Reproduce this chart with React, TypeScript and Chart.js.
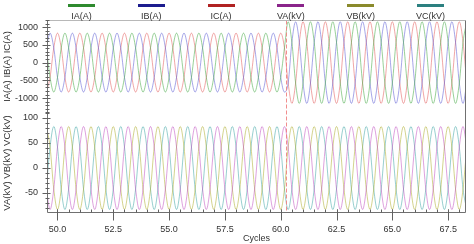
import { useEffect, useRef } from "react";
import { Chart, registerables } from "chart.js";
Chart.register(...registerables);

// Sample times (cycles), 6 samples per cycle
const TIME = [
  49.5, 49.667, 49.833, 50, 50.167, 50.333,
  50.5, 50.667, 50.833, 51, 51.167, 51.333,
  51.5, 51.667, 51.833, 52, 52.167, 52.333,
  52.5, 52.667, 52.833, 53, 53.167, 53.333,
  53.5, 53.667, 53.833, 54, 54.167, 54.333,
  54.5, 54.667, 54.833, 55, 55.167, 55.333,
  55.5, 55.667, 55.833, 56, 56.167, 56.333,
  56.5, 56.667, 56.833, 57, 57.167, 57.333,
  57.5, 57.667, 57.833, 58, 58.167, 58.333,
  58.5, 58.667, 58.833, 59, 59.167, 59.333,
  59.5, 59.667, 59.833, 60, 60.167, 60.333,
  60.5, 60.667, 60.833, 61, 61.167, 61.333,
  61.5, 61.667, 61.833, 62, 62.167, 62.333,
  62.5, 62.667, 62.833, 63, 63.167, 63.333,
  63.5, 63.667, 63.833, 64, 64.167, 64.333,
  64.5, 64.667, 64.833, 65, 65.167, 65.333,
  65.5, 65.667, 65.833, 66, 66.167, 66.333,
  66.5, 66.667, 66.833, 67, 67.167, 67.333,
  67.5, 67.667, 67.833, 68, 68.167, 68.333,
];

const IA = [
  415, -415, -830, -415, 415, 830,
  415, -415, -830, -415, 415, 830,
  415, -415, -830, -415, 415, 830,
  415, -415, -830, -415, 415, 830,
  415, -415, -830, -415, 415, 830,
  415, -415, -830, -415, 415, 830,
  415, -415, -830, -415, 415, 830,
  415, -415, -830, -415, 415, 830,
  415, -415, -830, -415, 415, 830,
  415, -415, -830, -415, 415, 830,
  415, -415, -830, -415, 415, 1150,
  575, -575, -1150, -575, 575, 1150,
  575, -575, -1150, -575, 575, 1150,
  575, -575, -1150, -575, 575, 1150,
  575, -575, -1150, -575, 575, 1150,
  575, -575, -1150, -575, 575, 1150,
  575, -575, -1150, -575, 575, 1150,
  575, -575, -1150, -575, 575, 1150,
  575, -575, -1150, -575, 575, 1150,
];

const IB = [
  415, 830, 415, -415, -830, -415,
  415, 830, 415, -415, -830, -415,
  415, 830, 415, -415, -830, -415,
  415, 830, 415, -415, -830, -415,
  415, 830, 415, -415, -830, -415,
  415, 830, 415, -415, -830, -415,
  415, 830, 415, -415, -830, -415,
  415, 830, 415, -415, -830, -415,
  415, 830, 415, -415, -830, -415,
  415, 830, 415, -415, -830, -415,
  415, 830, 415, -415, -830, -575,
  575, 1150, 575, -575, -1150, -575,
  575, 1150, 575, -575, -1150, -575,
  575, 1150, 575, -575, -1150, -575,
  575, 1150, 575, -575, -1150, -575,
  575, 1150, 575, -575, -1150, -575,
  575, 1150, 575, -575, -1150, -575,
  575, 1150, 575, -575, -1150, -575,
  575, 1150, 575, -575, -1150, -575,
];

const IC = [
  -830, -415, 415, 830, 415, -415,
  -830, -415, 415, 830, 415, -415,
  -830, -415, 415, 830, 415, -415,
  -830, -415, 415, 830, 415, -415,
  -830, -415, 415, 830, 415, -415,
  -830, -415, 415, 830, 415, -415,
  -830, -415, 415, 830, 415, -415,
  -830, -415, 415, 830, 415, -415,
  -830, -415, 415, 830, 415, -415,
  -830, -415, 415, 830, 415, -415,
  -830, -415, 415, 830, 415, -575,
  -1150, -575, 575, 1150, 575, -575,
  -1150, -575, 575, 1150, 575, -575,
  -1150, -575, 575, 1150, 575, -575,
  -1150, -575, 575, 1150, 575, -575,
  -1150, -575, 575, 1150, 575, -575,
  -1150, -575, 575, 1150, 575, -575,
  -1150, -575, 575, 1150, 575, -575,
  -1150, -575, 575, 1150, 575, -575,
];

const VA = [
  -42, -83, -42, 42, 83, 42,
  -42, -83, -42, 42, 83, 42,
  -42, -83, -42, 42, 83, 42,
  -42, -83, -42, 42, 83, 42,
  -42, -83, -42, 42, 83, 42,
  -42, -83, -42, 42, 83, 42,
  -42, -83, -42, 42, 83, 42,
  -42, -83, -42, 42, 83, 42,
  -42, -83, -42, 42, 83, 42,
  -42, -83, -42, 42, 83, 42,
  -42, -83, -42, 42, 83, 42,
  -42, -83, -42, 42, 83, 42,
  -42, -83, -42, 42, 83, 42,
  -42, -83, -42, 42, 83, 42,
  -42, -83, -42, 42, 83, 42,
  -42, -83, -42, 42, 83, 42,
  -42, -83, -42, 42, 83, 42,
  -42, -83, -42, 42, 83, 42,
  -42, -83, -42, 42, 83, 42,
];

const VB = [
  83, 42, -42, -83, -42, 42,
  83, 42, -42, -83, -42, 42,
  83, 42, -42, -83, -42, 42,
  83, 42, -42, -83, -42, 42,
  83, 42, -42, -83, -42, 42,
  83, 42, -42, -83, -42, 42,
  83, 42, -42, -83, -42, 42,
  83, 42, -42, -83, -42, 42,
  83, 42, -42, -83, -42, 42,
  83, 42, -42, -83, -42, 42,
  83, 42, -42, -83, -42, 42,
  83, 42, -42, -83, -42, 42,
  83, 42, -42, -83, -42, 42,
  83, 42, -42, -83, -42, 42,
  83, 42, -42, -83, -42, 42,
  83, 42, -42, -83, -42, 42,
  83, 42, -42, -83, -42, 42,
  83, 42, -42, -83, -42, 42,
  83, 42, -42, -83, -42, 42,
];

const VC = [
  -42, 42, 83, 42, -42, -83,
  -42, 42, 83, 42, -42, -83,
  -42, 42, 83, 42, -42, -83,
  -42, 42, 83, 42, -42, -83,
  -42, 42, 83, 42, -42, -83,
  -42, 42, 83, 42, -42, -83,
  -42, 42, 83, 42, -42, -83,
  -42, 42, 83, 42, -42, -83,
  -42, 42, 83, 42, -42, -83,
  -42, 42, 83, 42, -42, -83,
  -42, 42, 83, 42, -42, -83,
  -42, 42, 83, 42, -42, -83,
  -42, 42, 83, 42, -42, -83,
  -42, 42, 83, 42, -42, -83,
  -42, 42, 83, 42, -42, -83,
  -42, 42, 83, 42, -42, -83,
  -42, 42, 83, 42, -42, -83,
  -42, 42, 83, 42, -42, -83,
  -42, 42, 83, 42, -42, -83,
];

const SERIES_LABELS = ["IA(A)", "IB(A)", "IC(A)", "VA(kV)", "VB(kV)", "VC(kV)"];
const X_TICKS = [50, 52.5, 55, 57.5, 60, 62.5, 65, 67.5];
const I_TICKS = [-1000, -500, 0, 500, 1000];
const V_TICKS = [-50, 0, 50, 100];
const FAULT_CYCLE = 60.22;

const LEGEND_COLORS = ["#2e8a2e", "#1c1c8e", "#b02222", "#8a248a", "#8a8a2c", "#2c8080"];
const LINE_COLORS = [
  "rgba(70,170,70,0.55)",
  "rgba(80,80,210,0.5)",
  "rgba(225,80,80,0.5)",
  "rgba(190,70,190,0.5)",
  "rgba(175,175,50,0.55)",
  "rgba(50,160,160,0.5)",
];

const FONT = "'Liberation Sans', Arial, sans-serif";

const decorPlugin = {
  id: "decor",
  afterDatasetsDraw(chart: any) {
    const { ctx, chartArea: ca, scales } = chart;
    const L = Math.round(ca.left) + 0.5;
    const R = Math.round(ca.right) - 0.5;
    const T = Math.round(ca.top) + 0.5;
    const B = Math.round(ca.bottom) - 0.5;
    ctx.save();
    ctx.lineWidth = 1;
    // fault marker
    const fx = Math.round(scales.x.getPixelForValue(FAULT_CYCLE)) + 0.5;
    ctx.strokeStyle = "rgba(240,130,130,0.9)";
    ctx.setLineDash([4, 2]);
    ctx.beginPath();
    ctx.moveTo(fx, T);
    ctx.lineTo(fx, B);
    ctx.stroke();
    ctx.setLineDash([]);
    // frame
    ctx.strokeStyle = "#b8b8b8";
    ctx.beginPath();
    ctx.moveTo(L, T);
    ctx.lineTo(R, T);
    ctx.stroke();
    ctx.strokeStyle = "#707070";
    ctx.beginPath();
    ctx.moveTo(R, T);
    ctx.lineTo(R, B);
    ctx.moveTo(L, T);
    ctx.lineTo(L, B);
    ctx.lineTo(R, B);
    ctx.stroke();
    // y ticks
    ctx.strokeStyle = "#606060";
    const yTicks = (sc: any, major: number[], minorStep: number) => {
      ctx.beginPath();
      for (let v = Math.ceil(sc.min / minorStep) * minorStep; v <= sc.max; v += minorStep) {
        const y = Math.round(sc.getPixelForValue(v)) + 0.5;
        if (y < T || y > B) continue;
        ctx.moveTo(L - 2, y);
        ctx.lineTo(L + 2, y);
      }
      for (const v of major) {
        const y = Math.round(sc.getPixelForValue(v)) + 0.5;
        ctx.moveTo(L - 5, y);
        ctx.lineTo(L + 3, y);
      }
      ctx.stroke();
    };
    yTicks(scales.yI, I_TICKS, 100);
    yTicks(scales.yV, V_TICKS, 10);
    // x ticks
    ctx.beginPath();
    for (let v = Math.ceil(scales.x.min * 2) / 2; v <= scales.x.max; v += 0.5) {
      const x = Math.round(scales.x.getPixelForValue(v)) + 0.5;
      ctx.moveTo(x, B - 3);
      ctx.lineTo(x, B);
    }
    for (const v of X_TICKS) {
      const x = Math.round(scales.x.getPixelForValue(v)) + 0.5;
      ctx.moveTo(x, B - 3);
      ctx.lineTo(x, B + 8);
    }
    ctx.stroke();
    // legend
    ctx.font = `9px ${FONT}`;
    ctx.textAlign = "center";
    ctx.textBaseline = "middle";
    chart.data.datasets.forEach((ds: any, i: number) => {
      const cx = 81.5 + i * 69.8;
      ctx.fillStyle = LEGEND_COLORS[i];
      ctx.fillRect(Math.round(cx - 13.5), 4, 27, 3);
      ctx.fillStyle = "#333";
      ctx.fillText(ds.label, cx, 16.5);
    });
    ctx.restore();
  },
};

export default function App() {
  const ref = useRef<HTMLCanvasElement>(null);
  useEffect(() => {
    const series = [IA, IB, IC, VA, VB, VC];
    const datasets = series.map((d, i) => ({
      label: SERIES_LABELS[i],
      data: d,
      yAxisID: i < 3 ? "yI" : "yV",
      borderColor: LINE_COLORS[i],
      borderWidth: 1,
      pointRadius: 0,
      cubicInterpolationMode: "monotone" as const,
      fill: false,
    }));
    const tickFont = { family: FONT, size: 9 };
    const plain = (v: any) => String(v);
    const chart = new Chart(ref.current!, {
      type: "line",
      data: { labels: TIME, datasets },
      options: {
        animation: false,
        responsive: false,
        events: [],
        layout: { padding: { top: 20, right: 8, left: 0, bottom: 0 } },
        plugins: { legend: { display: false }, tooltip: { enabled: false } },
        scales: {
          x: {
            type: "linear",
            min: 49.53,
            max: 68.3,
            grid: { display: false, drawTicks: false, tickLength: 0 },
            border: { display: false },
            afterBuildTicks: (s: any) => {
              s.ticks = X_TICKS.map((value) => ({ value }));
            },
            afterFit: (s: any) => {
              s.height = 31;
            },
            ticks: {
              autoSkip: false,
              maxRotation: 0,
              padding: 11,
              font: tickFont,
              color: "#333",
              callback: (v: any) => Number(v).toFixed(1),
            },
            title: {
              display: true,
              text: "Cycles",
              font: { family: FONT, size: 9 },
              color: "#333",
              padding: { top: 0, bottom: 0 },
            },
          },
          yV: {
            type: "linear",
            position: "left",
            stack: "panels",
            stackWeight: 100,
            min: -90,
            max: 110,
            grid: { display: false, drawTicks: false, tickLength: 0 },
            border: { display: false },
            afterBuildTicks: (s: any) => {
              s.ticks = V_TICKS.map((value) => ({ value }));
            },
            afterFit: (s: any) => {
              s.width = 47;
            },
            ticks: { autoSkip: false, padding: 9, font: tickFont, color: "#333", callback: plain },
            title: {
              display: true,
              text: "VA(kV) VB(kV) VC(kV)",
              font: { family: FONT, size: 9.5 },
              color: "#333",
              padding: { top: 2, bottom: 0 },
            },
          },
          yI: {
            type: "linear",
            position: "left",
            stack: "panels",
            stackWeight: 93,
            min: -1420,
            max: 1200,
            grid: { display: false, drawTicks: false, tickLength: 0 },
            border: { display: false },
            afterBuildTicks: (s: any) => {
              s.ticks = I_TICKS.map((value) => ({ value }));
            },
            afterFit: (s: any) => {
              s.width = 47;
            },
            ticks: { autoSkip: false, padding: 9, font: tickFont, color: "#333", callback: plain },
            title: {
              display: true,
              text: "IA(A) IB(A) IC(A)",
              font: { family: FONT, size: 9.5 },
              color: "#333",
              padding: { top: 2, bottom: 0 },
            },
          },
        },
      },
      plugins: [decorPlugin],
    });
    return () => chart.destroy();
  }, []);
  return (
    <div style={{ position: "fixed", left: 0, top: 0, width: 474, height: 244, background: "#fff" }}>
      <canvas ref={ref} width={474} height={244} style={{ display: "block" }} />
    </div>
  );
}
